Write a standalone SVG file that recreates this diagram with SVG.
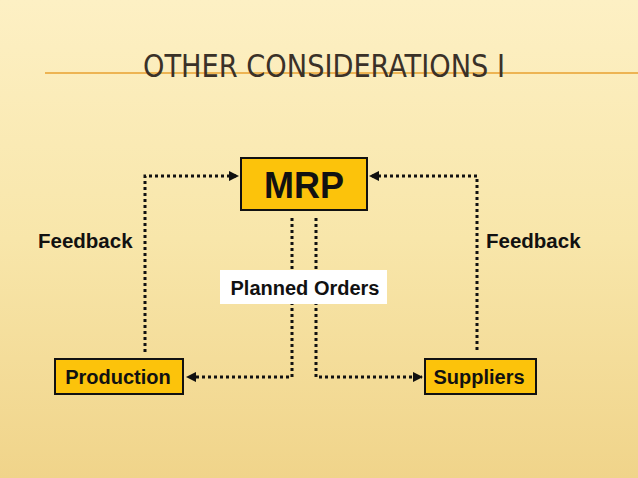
<svg xmlns="http://www.w3.org/2000/svg" width="638" height="478" viewBox="0 0 638 478">
<defs>
<linearGradient id="bg" x1="0" y1="0" x2="0" y2="1"><stop offset="0" stop-color="#fdf0c4"/><stop offset="0.5" stop-color="#f8e6aa"/><stop offset="1" stop-color="#f0d48a"/></linearGradient>
<marker id="ah" viewBox="0 0 10 10" refX="9" refY="5" markerWidth="3.5" markerHeight="3.5" orient="auto"><path d="M0,0 L10,5 L0,10 z" fill="#111"/></marker>
<style>
.box{fill:#fcc30b;stroke:#111;stroke-width:2}
.lbl{font-family:"Liberation Sans",Arial,sans-serif;font-weight:bold;fill:#111}
.c{fill:none;stroke:#111;stroke-width:3;stroke-dasharray:3 3;marker-end:url(#ah)}
</style>
</defs>
<rect width="638" height="478" fill="url(#bg)"/>
<line x1="45" y1="73" x2="638" y2="73" stroke="#e8a030" stroke-width="1.5"/>
<text x="143" y="77" font-family="'DejaVu Sans Condensed','Liberation Sans',sans-serif" font-size="32" fill="#3a3128" textLength="362" lengthAdjust="spacingAndGlyphs">OTHER CONSIDERATIONS I</text>
<g id="connectors">
<path class="c" d="M145,352 V176 H238"/>
<path class="c" d="M477,350 V176 H370"/>
<path class="c" d="M292,218 V377 H187"/>
<path class="c" d="M316,218 V377 H422"/>
</g>
<g id="planned"><rect x="220" y="270" width="167" height="34" fill="#fff"/><text class="lbl" x="305" y="295" font-size="20" text-anchor="middle">Planned Orders</text></g>
<g id="mrp"><rect class="box" x="241" y="158" width="126" height="52"/><text class="lbl" x="304" y="198" font-size="36" text-anchor="middle">MRP</text></g>
<g id="production"><rect class="box" x="55" y="359" width="128" height="35"/><text class="lbl" x="118" y="384" font-size="20" text-anchor="middle">Production</text></g>
<g id="suppliers"><rect class="box" x="425" y="359" width="111" height="35"/><text class="lbl" x="479" y="384" font-size="20" text-anchor="middle">Suppliers</text></g>
<text class="lbl" x="38" y="248" font-size="20.5">Feedback</text>
<text class="lbl" x="486" y="248" font-size="20.5">Feedback</text>
</svg>
